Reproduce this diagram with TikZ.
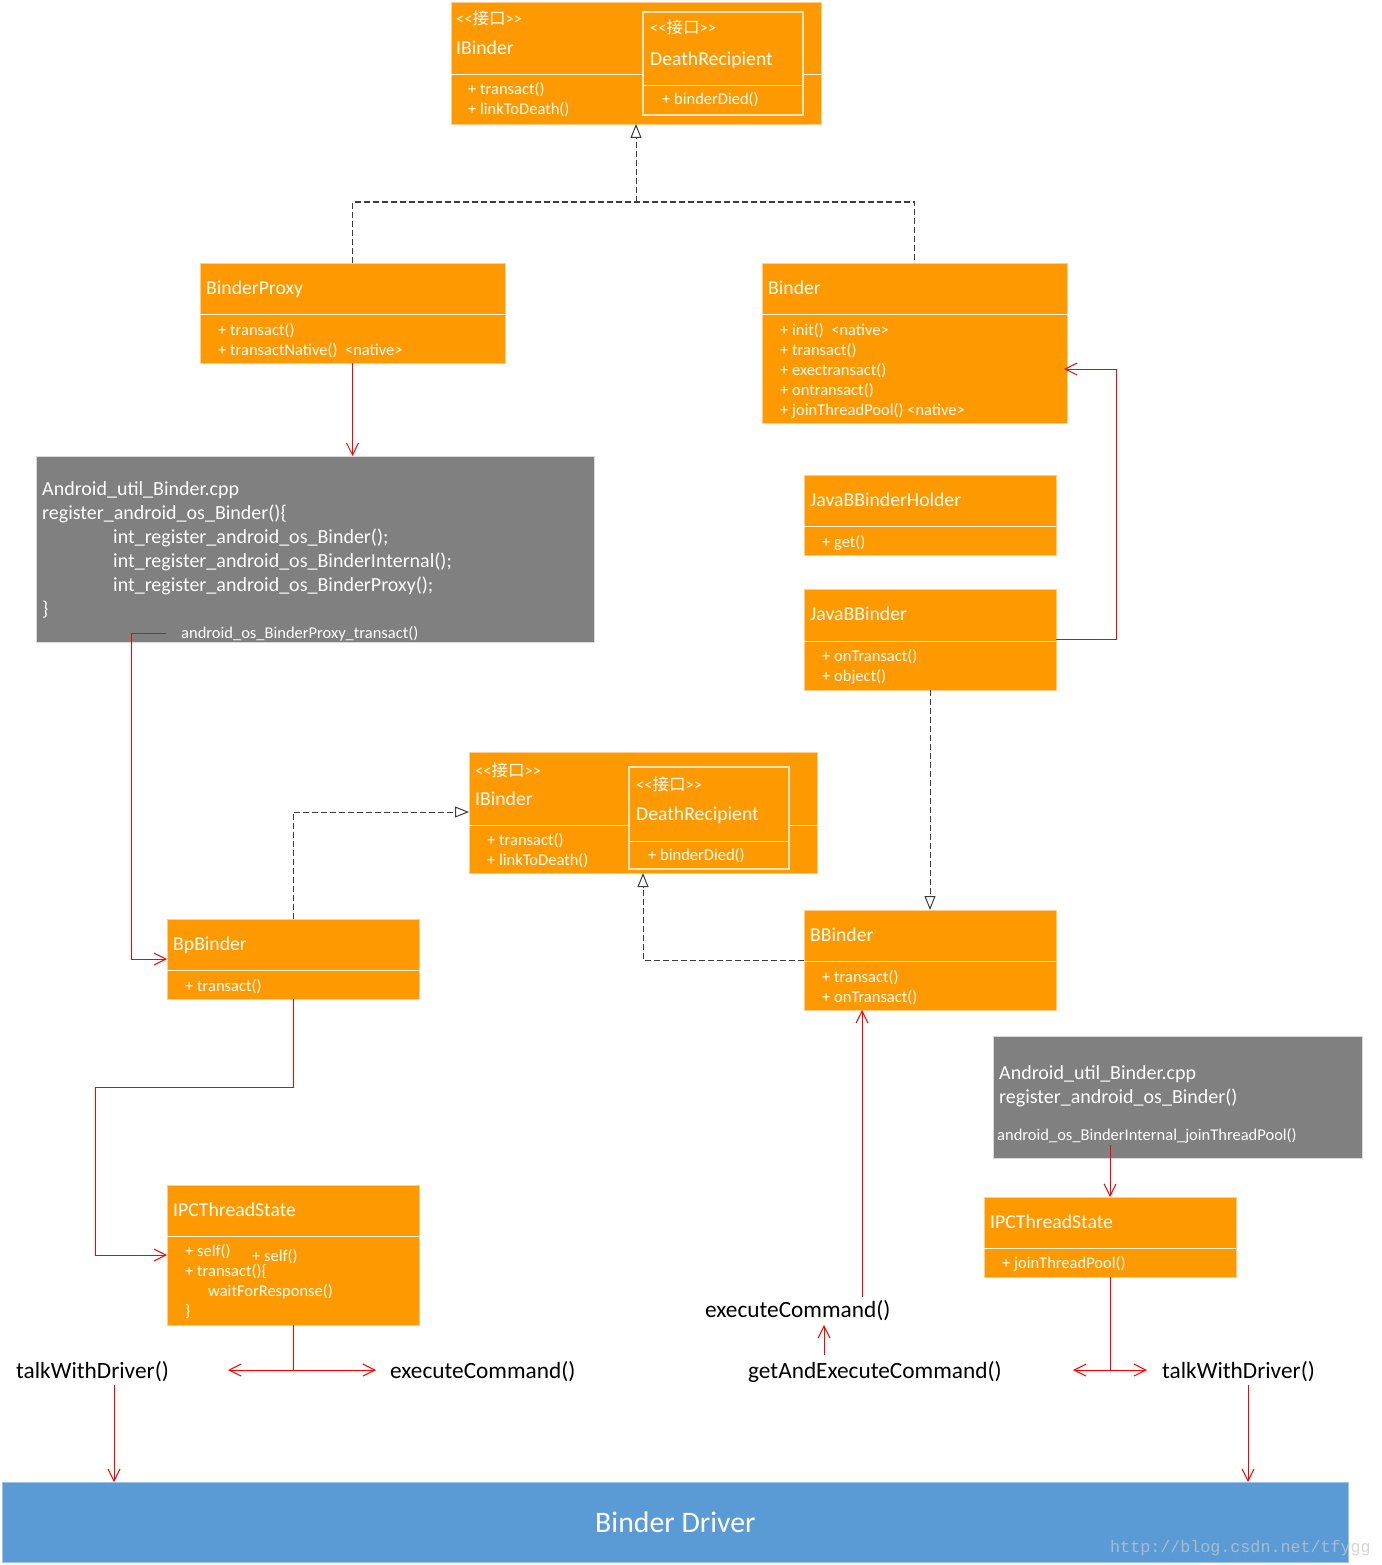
\documentclass[tikz,border=0pt]{standalone}
\usepackage{fontspec}
\setmainfont{Carlito}
\newfontfamily\cjk{Noto Sans CJK SC}
\newfontfamily\wmfont{Liberation Mono}
\usetikzlibrary{arrows.meta}
\definecolor{umlorange}{RGB}{255,153,0}
\definecolor{umlgray}{RGB}{128,128,128}
\definecolor{drvblue}{RGB}{91,155,213}
\definecolor{dashgray}{RGB}{60,60,60}
\definecolor{edgeor}{RGB}{255,205,140}
\definecolor{innerline}{RGB}{255,228,190}
\definecolor{linered}{RGB}{255,0,0}
\newcommand\umlstereo{{<}{<}{\cjk 接口}{>}{>}}
\tikzset{
  cls/.style={draw=edgeor, line width=0.7pt, fill=umlorange, anchor=north west, inner sep=0pt, outer sep=0pt},
  innercls/.style={draw=innerline, line width=1.2pt, fill=umlorange, anchor=north west, inner sep=0pt, outer sep=0pt},
  graybox/.style={draw=white!85!black, line width=0.7pt, fill=umlgray, anchor=north west, inner sep=0pt, outer sep=0pt},
  divider/.style={draw=white!90!umlorange, line width=1pt},
  ttl/.style={anchor=base west, inner sep=0pt, text=white, font=\fontsize{19.7}{23}\selectfont},
  mth/.style={anchor=base west, inner sep=0pt, text=white, font=\fontsize{16.5}{19}\selectfont},
  gtxt/.style={anchor=base west, inner sep=0pt, text=white, font=\fontsize{20}{23}\selectfont},
  lbl/.style={anchor=base west, inner sep=0pt, text=black, font=\fontsize{23.3}{27}\selectfont},
  redline/.style={draw=linered, line width=1pt},
  barb/.tip={Straight Barb[length=12pt,width=12pt,line width=1pt]},
  hollow/.tip={Triangle[open,fill=white,length=14pt,width=11pt,line width=1pt]},
  dashline/.style={draw=dashgray, line width=1pt, dash pattern=on 6pt off 3pt},
}
\begin{document}
\begin{tikzpicture}[x=1pt,y=-1pt]
\useasboundingbox (0,0) rectangle (1381,1565);

% ---------- top IBinder ----------
\node[cls, minimum width=370pt, minimum height=122pt] (ib1) at (451,2) {};
\draw[divider] (451,75) -- (821,75);
\node[mth] (ib1s) at (456,25) {\umlstereo};
\node[ttl] (ib1t) at (456,55) {IBinder};
\node[mth] (ib1m1) at (468,95) {+ transact()};
\node[mth] (ib1m2) at (468,115) {+ linkToDeath()};
\node[innercls, minimum width=160pt, minimum height=103pt] (dr1) at (643,12) {};
\draw[divider] (643,86) -- (803,86);
\node[mth] (dr1s) at (650,34) {\umlstereo};
\node[ttl] (dr1t) at (650,66) {DeathRecipient};
\node[mth] (dr1m) at (662,105) {+ binderDied()};

% ---------- BinderProxy ----------
\node[cls, minimum width=305pt, minimum height=100pt] (bp) at (200,263) {};
\draw[divider] (200,314) -- (505,314);
\node[ttl] (bpt) at (206,294) {BinderProxy};
\node[mth] (bpm1) at (218,335) {+ transact()};
\node[mth] (bpm2) at (218,355) {+ transactNative()~ <native>};

% ---------- Binder ----------
\node[cls, minimum width=305pt, minimum height=160pt] (bn) at (762,263) {};
\draw[divider] (762,314) -- (1067,314);
\node[ttl] (bnt) at (768,294) {Binder};
\node[mth] (bnm1) at (780,335) {+ init()~ <native>};
\node[mth] (bnm2) at (780,355) {+ transact()};
\node[mth] (bnm3) at (780,375) {+ exectransact()};
\node[mth] (bnm4) at (780,395) {+ ontransact()};
\node[mth] (bnm5) at (780,415) {+ joinThreadPool() <native>};

% ---------- gray box 1 ----------
\node[graybox, minimum width=558pt, minimum height=186pt] (g1) at (36,456) {};
\node[gtxt] (g1a) at (42,495) {Android\_util\_Binder.cpp};
\node[gtxt] (g1b) at (42,519) {register\_android\_os\_Binder()\{};
\node[gtxt] (g1c) at (113,543) {int\_register\_android\_os\_Binder();};
\node[gtxt] (g1d) at (113,567) {int\_register\_android\_os\_BinderInternal();};
\node[gtxt] (g1e) at (113,591) {int\_register\_android\_os\_BinderProxy();};
\node[gtxt] (g1f) at (42,615) {\}};
\node[mth] (g1g) at (181,638) {android\_os\_BinderProxy\_transact()};

% ---------- JavaBBinderHolder ----------
\node[cls, minimum width=252pt, minimum height=80pt] (jbh) at (804,475) {};
\draw[divider] (804,526) -- (1056,526);
\node[ttl] (jbht) at (810,506) {JavaBBinderHolder};
\node[mth] (jbhm) at (822,547) {+ get()};

% ---------- JavaBBinder ----------
\node[cls, minimum width=252pt, minimum height=101pt] (jbb) at (804,589) {};
\draw[divider] (804,641) -- (1056,641);
\node[ttl] (jbbt) at (810,620) {JavaBBinder};
\node[mth] (jbbm1) at (822,661) {+ onTransact()};
\node[mth] (jbbm2) at (822,681) {+ object()};

% ---------- middle IBinder ----------
\node[cls, minimum width=348pt, minimum height=121pt] (ib2) at (469,752) {};
\draw[divider] (469,825) -- (817,825);
\node[mth] (ib2s) at (475,776) {\umlstereo};
\node[ttl] (ib2t) at (475,805) {IBinder};
\node[mth] (ib2m1) at (487,845) {+ transact()};
\node[mth] (ib2m2) at (487,865) {+ linkToDeath()};
\node[innercls, minimum width=160pt, minimum height=102pt] (dr2) at (629,767) {};
\draw[divider] (629,841) -- (789,841);
\node[mth] (dr2s) at (636,790) {\umlstereo};
\node[ttl] (dr2t) at (636,820) {DeathRecipient};
\node[mth] (dr2m) at (648,860) {+ binderDied()};

% ---------- BpBinder ----------
\node[cls, minimum width=252pt, minimum height=80pt] (bpb) at (167,919) {};
\draw[divider] (167,970) -- (419,970);
\node[ttl] (bpbt) at (173,950) {BpBinder};
\node[mth] (bpbm) at (185,991) {+ transact()};

% ---------- BBinder ----------
\node[cls, minimum width=252pt, minimum height=100pt] (bb) at (804,910) {};
\draw[divider] (804,961) -- (1056,961);
\node[ttl] (bbt) at (810,941) {BBinder};
\node[mth] (bbm1) at (822,982) {+ transact()};
\node[mth] (bbm2) at (822,1002) {+ onTransact()};

% ---------- IPCThreadState left ----------
\node[cls, minimum width=252pt, minimum height=140pt] (ipc1) at (167,1185) {};
\draw[divider] (167,1236) -- (419,1236);
\node[ttl] (ipc1t) at (173,1216) {IPCThreadState};
\node[mth] (ipc1m1) at (185,1256) {+ self()};
\node[mth] (ipc1m2) at (252,1261) {+ self()};
\node[mth] (ipc1m3) at (185,1276) {+ transact()\{};
\node[mth] (ipc1m4) at (208,1296) {waitForResponse()};
\node[mth] (ipc1m5) at (185,1316) {\}};

% ---------- gray box 2 ----------
\node[graybox, minimum width=369pt, minimum height=122pt] (g2) at (993,1036) {};
\node[gtxt] (g2a) at (999,1079) {Android\_util\_Binder.cpp};
\node[gtxt] (g2b) at (999,1103) {register\_android\_os\_Binder()};
\node[mth] (g2c) at (997,1140) {android\_os\_BinderInternal\_joinThreadPool()};

% ---------- IPCThreadState right ----------
\node[cls, minimum width=252pt, minimum height=80pt] (ipc2) at (984,1197) {};
\draw[divider] (984,1248) -- (1236,1248);
\node[ttl] (ipc2t) at (990,1228) {IPCThreadState};
\node[mth] (ipc2m) at (1002,1268) {+ joinThreadPool()};

% ---------- Binder Driver ----------
\node[anchor=north west, fill=drvblue, draw=drvblue!60!white, line width=0.7pt, inner sep=0pt, minimum width=1346pt, minimum height=80pt] (drv) at (2,1482) {};
\node[text=white, inner sep=0pt, font=\fontsize{29.8}{34}\selectfont] (drvt) at (drv.center) {Binder Driver};
\node[anchor=base west, inner sep=0pt, text=black!22, opacity=0.75, font=\wmfont\fontsize{16.7}{20}\selectfont] (wm) at (1110,1552) {http://blog.csdn.net/tfygg};

% ---------- labels ----------
\node[lbl] (talk1) at (16,1378) {talkWithDriver()};
\node[lbl] (exec1) at (390,1378) {executeCommand()};
\node[lbl] (exec2) at (705,1317) {executeCommand()};
\node[lbl] (gaec) at (748,1378) {getAndExecuteCommand()};
\node[lbl] (talk2) at (1162,1378) {talkWithDriver()};

% ---------- coordinates ----------
\coordinate (j1) at (636,202);
\coordinate (p1) at (166,633);
\coordinate (p2) at (131,633);
\coordinate (p3) at (1116,369);
\coordinate (p4) at (1064,369);
\coordinate (p5) at (469,812);
\coordinate (p6) at (643,873);
\coordinate (p7) at (293,1087);
\coordinate (p8) at (95,1087);
\coordinate (m1) at (293,1370);
\coordinate (la1) at (228,1370);
\coordinate (ra1) at (376,1370);
\coordinate (d1) at (114,1385);
\coordinate (d2) at (1248,1385);
\coordinate (e1) at (862,1297);
\coordinate (e2) at (824,1355);
\coordinate (e3) at (824,1325);
\coordinate (g2p) at (1110,1145);
\coordinate (m2) at (1110,1370);
\coordinate (la2) at (1073,1370);
\coordinate (ra2) at (1147,1370);

% ---------- dashed realisations ----------
\draw[dashline] (bp.north) |- (j1) -| (bn.north);
\draw[dashline, -hollow] (j1) -- (ib1.south);
\draw[dashline, -hollow] (jbb.south) -- (bb.north);
\draw[dashline, -hollow] (bpb.north) |- (p5);
\draw[dashline, -hollow] (bb.west) -| (p6);

% ---------- red calls ----------
\draw[redline, -barb] (bp.south) -- (bp.south |- g1.north);
\draw[redline, -barb] (p1) -- (p2) |- (bpb.west);
\draw[redline, -barb] (jbb.east) -| (p3) -- (p4);
\draw[redline, -barb] (bpb.south) -- (p7) -- (p8) |- (ipc1.west);
\draw[redline] (ipc1.south) -- (m1);
\draw[redline, barb-barb] (la1) -- (ra1);
\draw[redline, -barb] (d1) -- (d1 |- drv.north);
\draw[redline, -barb] (e1) -- (e1 |- bb.south);
\draw[redline, -barb] (e2) -- (e3);
\draw[redline, -barb] (g2p) -- (ipc2.north);
\draw[redline] (ipc2.south) -- (m2);
\draw[redline, barb-barb] (la2) -- (ra2);
\draw[redline, -barb] (d2) -- (d2 |- drv.north);
\end{tikzpicture}
\end{document}
